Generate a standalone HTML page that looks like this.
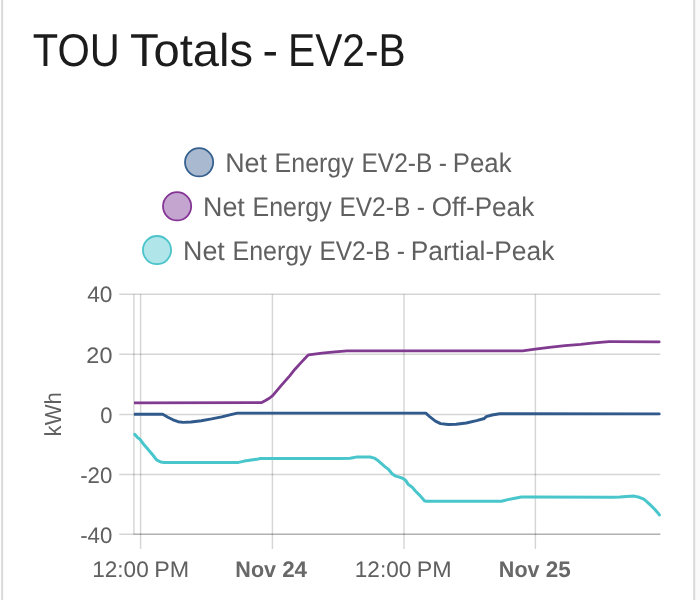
<!DOCTYPE html>
<html><head><meta charset="utf-8"><style>
html,body{margin:0;padding:0;background:#fafafa;width:700px;height:600px;overflow:hidden}
svg{display:block;position:absolute;left:0;top:0;filter:blur(0.3px)}
text{font-family:"Liberation Sans",Arial,sans-serif;text-rendering:geometricPrecision}
</style></head><body>
<svg width="700" height="600" viewBox="0 0 700 600">
<rect x="0" y="0" width="1" height="600" fill="#fdfdfd"/>
<rect x="1" y="0" width="694" height="600" fill="#ffffff"/>
<rect x="1.2" y="0" width="2" height="600" fill="#d9d9d9"/>
<rect x="693.2" y="0" width="2" height="600" fill="#d9d9d9"/>

<!-- legend markers -->
<circle cx="199.1" cy="162.3" r="14.1" fill="#a8b9d0" stroke="#36618f" stroke-width="1.8"/>
<circle cx="177.1" cy="206.3" r="14.1" fill="#c4a5d0" stroke="#853595" stroke-width="1.8"/>
<circle cx="157" cy="250.1" r="14.1" fill="#b0e5e9" stroke="#4ac4ca" stroke-width="1.8"/>

<!-- grid -->
<g stroke="#000" stroke-opacity="0.165" stroke-width="1.45" fill="none">
<path d="M119.2 294.2H660.3M119.2 354.3H660.3M119.2 414.4H660.3M119.2 474.5H660.3M119.2 534.3H660.3"/>
<path d="M133.9 294.2V534.5M140.6 294.2V549M272.4 294.2V549M404 294.2V549M535.4 294.2V549"/>
<path d="M133.9 534.3H660.3"/>
</g>

<text x="32.80" y="66.4" font-size="46" fill="#1c1c1c" textLength="87.10" lengthAdjust="spacingAndGlyphs">TOU</text>
<text x="129.98" y="66.4" font-size="46" fill="#1c1c1c" textLength="123.14" lengthAdjust="spacingAndGlyphs">Totals</text>
<text x="262.57" y="66.4" font-size="46" fill="#1c1c1c" textLength="15.53" lengthAdjust="spacingAndGlyphs">-</text>
<text x="288.08" y="66.4" font-size="46" fill="#1c1c1c" textLength="117.59" lengthAdjust="spacingAndGlyphs">EV2-B</text>
<text x="225.15" y="171.7" font-size="26.8" fill="#606060" textLength="41.76" lengthAdjust="spacingAndGlyphs">Net</text>
<text x="274.60" y="171.7" font-size="26.8" fill="#606060" textLength="79.14" lengthAdjust="spacingAndGlyphs">Energy</text>
<text x="361.54" y="171.7" font-size="26.8" fill="#606060" textLength="70.78" lengthAdjust="spacingAndGlyphs">EV2-B</text>
<text x="438.85" y="171.7" font-size="26.8" fill="#606060" textLength="8.25" lengthAdjust="spacingAndGlyphs">-</text>
<text x="452.84" y="171.7" font-size="26.8" fill="#606060" textLength="58.74" lengthAdjust="spacingAndGlyphs">Peak</text>
<text x="203.05" y="215.7" font-size="26.8" fill="#606060" textLength="41.76" lengthAdjust="spacingAndGlyphs">Net</text>
<text x="252.50" y="215.7" font-size="26.8" fill="#606060" textLength="79.14" lengthAdjust="spacingAndGlyphs">Energy</text>
<text x="339.44" y="215.7" font-size="26.8" fill="#606060" textLength="70.78" lengthAdjust="spacingAndGlyphs">EV2-B</text>
<text x="416.75" y="215.7" font-size="26.8" fill="#606060" textLength="8.25" lengthAdjust="spacingAndGlyphs">-</text>
<text x="431.68" y="215.7" font-size="26.8" fill="#606060" textLength="102.53" lengthAdjust="spacingAndGlyphs">Off-Peak</text>
<text x="183.05" y="259.7" font-size="26.8" fill="#606060" textLength="41.76" lengthAdjust="spacingAndGlyphs">Net</text>
<text x="232.50" y="259.7" font-size="26.8" fill="#606060" textLength="79.14" lengthAdjust="spacingAndGlyphs">Energy</text>
<text x="319.44" y="259.7" font-size="26.8" fill="#606060" textLength="70.78" lengthAdjust="spacingAndGlyphs">EV2-B</text>
<text x="396.75" y="259.7" font-size="26.8" fill="#606060" textLength="8.25" lengthAdjust="spacingAndGlyphs">-</text>
<text x="410.69" y="259.7" font-size="26.8" fill="#606060" textLength="143.68" lengthAdjust="spacingAndGlyphs">Partial-Peak</text>
<text x="92.24" y="576.7" font-size="22.4" fill="#606060" textLength="56.47" lengthAdjust="spacingAndGlyphs">12:00</text>
<text x="154.18" y="576.7" font-size="22.4" fill="#606060" textLength="34.94" lengthAdjust="spacingAndGlyphs">PM</text>
<text x="354.84" y="576.7" font-size="22.4" fill="#606060" textLength="56.47" lengthAdjust="spacingAndGlyphs">12:00</text>
<text x="416.78" y="576.7" font-size="22.4" fill="#606060" textLength="34.94" lengthAdjust="spacingAndGlyphs">PM</text>
<text x="235.36" y="576.7" font-size="22.4" font-weight="bold" fill="#686868" textLength="40.70" lengthAdjust="spacingAndGlyphs">Nov</text>
<text x="282.15" y="576.7" font-size="22.4" font-weight="bold" fill="#686868" textLength="24.91" lengthAdjust="spacingAndGlyphs">24</text>
<text x="498.86" y="576.7" font-size="22.4" font-weight="bold" fill="#686868" textLength="40.70" lengthAdjust="spacingAndGlyphs">Nov</text>
<text x="545.65" y="576.7" font-size="22.4" font-weight="bold" fill="#686868" textLength="25.01" lengthAdjust="spacingAndGlyphs">25</text>
<text x="87.19" y="302.4" font-size="22.4" fill="#606060" textLength="25.22" lengthAdjust="spacingAndGlyphs">40</text>
<text x="86.39" y="362.5" font-size="22.4" fill="#606060" textLength="26.06" lengthAdjust="spacingAndGlyphs">20</text>
<text x="100.32" y="422.6" font-size="22.4" fill="#606060" textLength="12.22" lengthAdjust="spacingAndGlyphs">0</text>
<text x="80.21" y="482.7" font-size="22.4" fill="#606060" textLength="32.16" lengthAdjust="spacingAndGlyphs">-20</text>
<text x="80.21" y="542.7" font-size="22.4" fill="#606060" textLength="32.16" lengthAdjust="spacingAndGlyphs">-40</text>
<text transform="translate(61.3 0) rotate(-90)" x="-436.43" y="0" font-size="23.2" fill="#606060" textLength="44.24" lengthAdjust="spacingAndGlyphs">kWh</text>

<!-- data lines -->
<clipPath id="ca"><rect x="133.9" y="280" width="560" height="270"/></clipPath>
<g clip-path="url(#ca)" fill="none" stroke-width="2.8" stroke-linejoin="round" stroke-linecap="round">
<polyline stroke="#305a8c" stroke-width="2.9" points="126,414.4 155,414.1 162.7,414.3 167.9,417.2 173,419.8 178.1,421.7 183.3,422.4 191,422 201.3,420.7 211.6,418.9 221.8,416.8 230.8,414.6 237.3,413.1 245,413.1 420,413.1 425.8,413.1 430.3,417.2 435.4,421.1 440.6,423.6 448.3,424.5 456,424.3 466.3,423 476.6,420.7 484.3,418.5 486.2,416.6 492,415 499.7,413.7 510,413.8 659.2,413.9"/>
<polyline stroke="#803a90" points="126,402.9 261.3,402.7 265.5,400.5 269.7,398 272.9,395.4 281.3,385.4 289.7,375.8 295,369.2 301,362.6 307,356.2 308.6,354.8 322.1,353.1 335,351.8 347,350.9 522.6,350.9 535.2,349.2 549.3,347.3 565,345.7 580.8,344.4 591.8,343.2 602.8,342.1 609,341.6 612,341.6 659.2,341.8"/>

</g>
<polyline stroke="#48c6cc" stroke-width="3" fill="none" stroke-linejoin="round" stroke-linecap="round" points="134.7,434.3 137.8,437.8 140,439.3 144.5,445.3 149,450.5 152.8,455 156.5,459.9 161,462.1 164,462.4 238.6,462.4 244.3,461.1 251.4,459.9 258.6,458.9 260,458.5 340,458.6 350.3,458.3 357.1,456.9 370,457 374.3,458.1 378.6,461.1 384.6,466.3 388.8,469.7 392.3,474 395.7,476.1 398.5,476.9 402.6,478.2 405.5,480.2 408.4,484.6 411.9,486.9 415.4,491 419.5,495.1 424.7,500.9 425.9,501.2 501.4,501.2 507.9,499.6 515,498.2 521.4,497 527.1,497.1 613,497.2 620,497 626.4,496.4 634.1,496.1 639.3,497.3 643.8,499.2 647,501.8 650.8,505.4 654.7,509.2 658.6,513.7 659.4,515"/>
</svg>
</body></html>
